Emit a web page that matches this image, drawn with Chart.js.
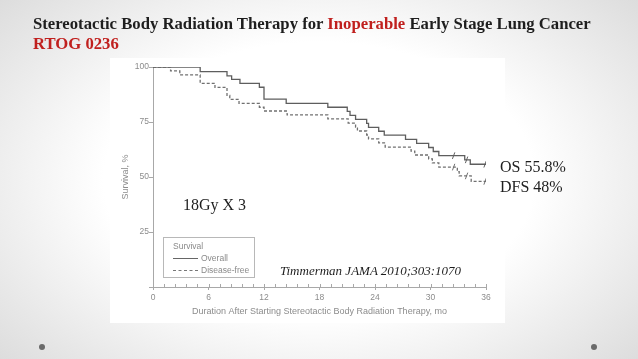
<!DOCTYPE html>
<html><head><meta charset="utf-8">
<script src="https://cdn.jsdelivr.net/npm/chart.js@4.4.1/dist/chart.umd.min.js"></script>
<style>
html,body{margin:0;padding:0;}
body{width:638px;height:359px;position:relative;overflow:hidden;
 background:radial-gradient(ellipse 75% 85% at 50% 50%, #ffffff 45%, #d4d4d4 100%);}
#panel{position:absolute;left:110px;top:58px;width:395px;height:265px;background:#fff;}
#c{position:absolute;left:0;top:0;}
.t{position:absolute;white-space:nowrap;font-family:"Liberation Serif",serif;color:#1e1e1e;}
.red{color:#c0201e;}
.dot{position:absolute;width:6px;height:6px;border-radius:3px;background:#6a6a6a;}
#legend{position:absolute;left:163px;top:237px;width:92px;height:41px;border:1px solid #b8b8b8;
 font-family:"Liberation Sans",sans-serif;font-size:8.5px;color:#8a8a8a;box-sizing:border-box;}
#legend div{position:absolute;left:9px;white-space:nowrap;}
.ls{display:inline-block;width:25px;vertical-align:middle;margin-right:3px;}
</style></head>
<body>
<div id="panel"></div>
<canvas id="c" width="638" height="359"></canvas>
<div class="t" style="left:33px;top:14px;font-size:16.7px;line-height:20px;font-weight:bold;">Stereotactic Body Radiation Therapy for <span class="red">Inoperable</span> Early Stage Lung Cancer</div>
<div class="t red" style="left:33px;top:34px;font-size:16.7px;line-height:20px;font-weight:bold;">RTOG 0236</div>
<div class="t" style="left:183px;top:195px;font-size:16px;line-height:20px;">18Gy X 3</div>
<div class="t" style="left:500px;top:157px;font-size:16px;line-height:20px;">OS 55.8%</div>
<div class="t" style="left:500px;top:177px;font-size:16px;line-height:20px;">DFS 48%</div>
<div class="t" style="left:280px;top:262px;font-size:13px;line-height:18px;font-style:italic;">Timmerman JAMA 2010;303:1070</div>
<div id="legend">
 <div style="top:3px;">Survival</div>
 <div style="top:15px;"><span class="ls" style="border-top:1.3px solid #666;"></span>Overall</div>
 <div style="top:27px;"><span class="ls" style="border-top:1.3px dashed #777;"></span>Disease-free</div>
</div>
<div class="dot" style="left:39px;top:344px;"></div>
<div class="dot" style="left:591px;top:344px;"></div>
<script>
// Data (months, survival %)
const overallMonths = [0, 5.1, 8.0, 8.5, 9.4, 11.5, 12.0, 14.4, 18.9, 21.0, 21.3, 21.9, 23.1, 23.3, 24.4, 25.0, 27.3, 28.5, 29.8, 30.3, 30.9, 33.7, 34.3, 36.0];
const overallValues = [100, 97.9, 96.0, 94.4, 92.6, 90.8, 85.4, 83.5, 81.7, 79.8, 78.0, 76.2, 74.4, 72.6, 70.8, 69.0, 67.1, 65.3, 63.4, 61.6, 59.7, 57.8, 55.8, 55.8];
const dfsMonths = [0, 1.9, 2.9, 5.1, 6.7, 8.0, 8.3, 9.3, 11.5, 12.0, 14.5, 18.9, 21.1, 21.9, 22.1, 23.1, 23.3, 24.4, 25.1, 27.9, 28.3, 29.8, 30.2, 30.9, 32.9, 33.1, 34.4, 36.0];
const dfsValues = [100, 98.2, 96.4, 92.6, 90.7, 87.1, 85.3, 83.5, 81.7, 80.0, 78.2, 76.4, 74.5, 72.7, 70.9, 69.1, 67.3, 65.5, 63.6, 61.8, 60.0, 58.2, 56.4, 54.5, 52.4, 50.5, 48.0, 48.0];
const overallCensorMonths = [32.5, 33.9, 35.9];
const overallCensorValues = [59.7, 57.8, 55.8];
const dfsCensorMonths = [32.5, 33.9, 35.9];
const dfsCensorValues = [54.5, 50.5, 48.0];
const xTicks = [0, 6, 12, 18, 24, 30, 36];
const yTicks = [0, 25, 50, 75, 100];
const seriesNames = ['Overall', 'Disease-free'];
const xTitle = 'Duration After Starting Stereotactic Body Radiation Therapy, mo';
const yTitle = 'Survival, %';

const pts = (xs, ys) => xs.map((x, i) => ({x: x, y: ys[i]}));
const axisGray = '#a8a8a8';
const labelGray = '#8c8c8c';

const minorTicks = {
  id: 'minorTicks',
  afterDraw(chart) {
    const ctx = chart.ctx, xs = chart.scales.x, b = chart.chartArea.bottom;
    ctx.save();
    ctx.strokeStyle = axisGray; ctx.lineWidth = 1;
    for (let i = 0; i <= 30; i++) {
      const px = Math.round(xs.getPixelForValue(i * 1.2)) + 0.5;
      ctx.beginPath(); ctx.moveTo(px, b); ctx.lineTo(px, b - 3); ctx.stroke();
    }
    ctx.restore();
  }
};

new Chart(document.getElementById('c'), {
  type: 'line',
  data: {
    datasets: [
      {label: seriesNames[0], data: pts(overallMonths, overallValues), stepped: true,
       borderColor: '#5e5e5e', borderWidth: 1.3, pointRadius: 0, fill: false},
      {label: seriesNames[1], data: pts(dfsMonths, dfsValues), stepped: true,
       borderColor: '#707070', borderWidth: 1.3, borderDash: [3, 2], pointRadius: 0, fill: false},
      {type: 'scatter', label: 'c1', data: pts(overallCensorMonths, overallCensorValues),
       pointStyle: 'line', rotation: -70, radius: 3.5, borderColor: '#5e5e5e', borderWidth: 1},
      {type: 'scatter', label: 'c2', data: pts(dfsCensorMonths, dfsCensorValues),
       pointStyle: 'line', rotation: -70, radius: 3.5, borderColor: '#707070', borderWidth: 1}
    ]
  },
  options: {
    responsive: false, animation: false, devicePixelRatio: 1,
    layout: {padding: {left: 100, right: 152, top: 67, bottom: 32}},
    plugins: {legend: {display: false}, tooltip: {enabled: false}},
    scales: {
      x: {
        type: 'linear', min: 0, max: 36,
        afterBuildTicks: s => { s.ticks = xTicks.map(v => ({value: v})); },
        afterFit: s => { s.height = 40; },
        ticks: {font: {family: 'Liberation Sans', size: 8.5}, color: labelGray, padding: 3, maxRotation: 0},
        grid: {drawOnChartArea: false, drawTicks: true, tickLength: 3, color: axisGray},
        border: {color: axisGray, width: 1},
        title: {display: true, text: xTitle, font: {family: 'Liberation Sans', size: 9}, color: labelGray,
                padding: {top: 0, bottom: 10}}
      },
      y: {
        min: 0, max: 100,
        afterBuildTicks: s => { s.ticks = yTicks.map(v => ({value: v})); },
        afterFit: s => { s.width = 53; },
        ticks: {font: {family: 'Liberation Sans', size: 8.5}, color: labelGray, padding: 0,
                callback: v => v === 0 ? '' : v},
        grid: {drawOnChartArea: false, drawTicks: true, tickLength: 4, color: axisGray},
        border: {color: axisGray, width: 1},
        title: {display: true, text: yTitle, font: {family: 'Liberation Sans', size: 9}, color: labelGray,
                padding: {top: 20, bottom: 0}}
      }
    }
  },
  plugins: [minorTicks]
});
</script>
</body></html>
